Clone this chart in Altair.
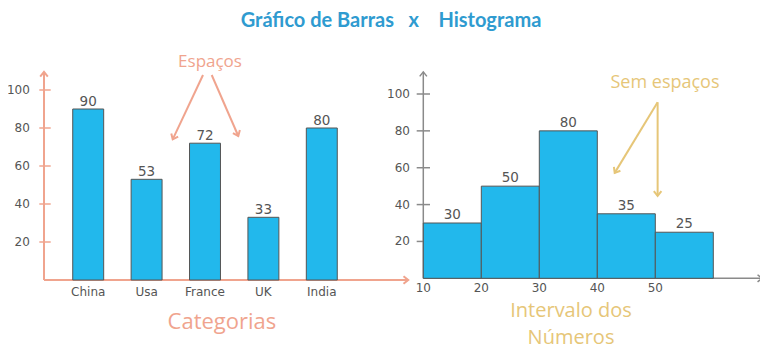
import altair as alt
import pandas as pd

# ---------------- data ----------------
categories = ["China", "Usa", "France", "UK", "India"]
cat_values = [90, 53, 72, 33, 80]

bin_starts = [10, 20, 30, 40, 50]
bin_ends = [20, 30, 40, 50, 60]
bin_counts = [30, 50, 80, 35, 25]

y_ticks = [20, 40, 60, 80, 100]
hist_tick_labels = [10, 20, 30, 40, 50]

title_text = "Gráfico de Barras\u00a0\u00a0\u00a0x\u00a0\u00a0\u00a0\u00a0Histograma"
left_note = "Espaços"
left_axis_title = "Categorias"
right_note = "Sem espaços"
right_axis_title = ["Intervalo dos", "Números"]

# ---------------- style ----------------
BAR = "#22b8ec"
EDGE = "#555555"
SALMON = "#f0a48e"
GOLD = "#e6c678"
GRAY = "#8a8a8a"
LABEL = "#555555"
TITLE = "#2f9bd0"
FONT = "Open Sans"
TICKFONT = "DejaVu Sans"
CHEVRON = "M-0.8,1L0,0L0.8,1"

# ---------------- scales (view is 752 x 324, origin at page (8,32)) ----------------
def L_band():
    return alt.Scale(domain=categories, range=[51, 343], paddingInner=0.47, paddingOuter=0.235)

def L_x():
    return alt.Scale(domain=[-0.5, 4.5], range=[51, 343], nice=False, zero=False)

def L_y():
    return alt.Scale(domain=[0, 100], range=[248, 58], nice=False, zero=False)

def R_x():
    return alt.Scale(domain=[10, 60], range=[415.3, 705.3], nice=False, zero=False)

def R_y():
    return alt.Scale(domain=[0, 100], range=[246.3, 62], nice=False, zero=False)

N = None

def q(field, scale):
    return alt.X(field, type="quantitative", scale=scale, axis=N)

def qy(field, scale):
    return alt.Y(field, type="quantitative", scale=scale, axis=N)

layers = []

# ======== LEFT PANEL: bar chart ========
df_bar = pd.DataFrame({"cat": categories, "val": cat_values})

# axes lines
df_laxes = pd.DataFrame({"x": [-0.757, -0.757], "x2": [-0.757, 5.48], "y": [0, 0], "y2": [109.5, 0]})
layers.append(alt.Chart(df_laxes).mark_rule(color=SALMON, strokeWidth=2).encode(
    x=q("x", L_x()), x2="x2", y=qy("y", L_y()), y2="y2"))
df_larr = pd.DataFrame({"x": [-0.757, 5.48], "y": [109.5, 0], "a": [0, 90]})
layers.append(alt.Chart(df_larr).mark_point(shape=CHEVRON, size=90, filled=False, color=SALMON,
                                            strokeWidth=2, opacity=1).encode(
    x=q("x", L_x()), y=qy("y", L_y()), angle=alt.Angle("a:Q", scale=None)))

# y ticks + labels
df_lt = pd.DataFrame({"v": y_ticks})
layers.append(alt.Chart(df_lt).mark_rule(color=SALMON, strokeWidth=1.5).encode(
    x=alt.datum(-0.837, type="quantitative", scale=L_x(), axis=N),
    x2=alt.datum(-0.642), y=qy("v", L_y())))
layers.append(alt.Chart(df_lt).mark_text(align="right", baseline="middle", font=TICKFONT, fontSize=12,
                                         color=LABEL).encode(
    x=alt.datum(-1.0, type="quantitative", scale=L_x(), axis=N), y=qy("v", L_y()), text="v:Q"))

# bars
layers.append(alt.Chart(df_bar).mark_bar(color=BAR, stroke=EDGE, strokeWidth=1).encode(
    x=alt.X("cat:N", scale=L_band(), axis=N, sort=categories),
    y=qy("val", L_y()), y2=alt.datum(0)))
layers.append(alt.Chart(df_bar).mark_text(baseline="alphabetic", dy=-3, font=TICKFONT, fontSize=13.5,
                                          color=LABEL).encode(
    x=alt.X("cat:N", scale=L_band(), axis=N, sort=categories),
    y=qy("val", L_y()), text="val:Q"))
layers.append(alt.Chart(df_bar).mark_text(baseline="middle", dy=12, font=TICKFONT, fontSize=12,
                                          color=LABEL).encode(
    x=alt.X("cat:N", scale=L_band(), axis=N, sort=categories),
    y=alt.datum(0, type="quantitative", scale=L_y(), axis=N), text="cat:N"))

# annotation "Espaços"
df_lnote = pd.DataFrame({"x": [2.086], "y": [114.7], "t": [left_note]})
layers.append(alt.Chart(df_lnote).mark_text(baseline="middle", font=FONT, fontSize=17,
                                            color=SALMON).encode(
    x=q("x", L_x()), y=qy("y", L_y()), text="t:N"))
df_lar = pd.DataFrame({"x": [1.966, 2.115], "y": [107.9, 107.9], "x2": [1.447, 2.57], "y2": [74.05, 75.8],
                       "a": [205.2, 156.4]})
layers.append(alt.Chart(df_lar).mark_rule(color=SALMON, strokeWidth=2).encode(
    x=q("x", L_x()), x2="x2", y=qy("y", L_y()), y2="y2"))
layers.append(alt.Chart(df_lar).mark_point(shape=CHEVRON, size=90, filled=False, color=SALMON,
                                           strokeWidth=2, opacity=1).encode(
    x=q("x2", L_x()), y=qy("y2", L_y()), angle=alt.Angle("a:Q", scale=None)))
df_ltitle = pd.DataFrame({"x": [2.29], "y": [-22.1], "t": [left_axis_title]})
layers.append(alt.Chart(df_ltitle).mark_text(baseline="middle", font=FONT, fontSize=22,
                                             color=SALMON).encode(
    x=q("x", L_x()), y=qy("y", L_y()), text="t:N"))

# ======== RIGHT PANEL: histogram ========
df_hist = pd.DataFrame({"s": bin_starts, "e": bin_ends, "c": bin_counts})
df_hist["m"] = (df_hist["s"] + df_hist["e"]) / 2

df_raxes = pd.DataFrame({"x": [10, 10], "x2": [10, 68.4], "y": [0, 0], "y2": [112, 0]})
layers.append(alt.Chart(df_raxes).mark_rule(color=GRAY, strokeWidth=1.5).encode(
    x=q("x", R_x()), x2="x2", y=qy("y", R_y()), y2="y2"))
df_rarr = pd.DataFrame({"x": [10, 68.4], "y": [112, 0], "a": [0, 90]})
layers.append(alt.Chart(df_rarr).mark_point(shape=CHEVRON, size=80, filled=False, color=GRAY,
                                            strokeWidth=1.5, opacity=1).encode(
    x=q("x", R_x()), y=qy("y", R_y()), angle=alt.Angle("a:Q", scale=None)))

df_rt = pd.DataFrame({"v": y_ticks})
layers.append(alt.Chart(df_rt).mark_rule(color=GRAY, strokeWidth=1.5).encode(
    x=alt.datum(8.86, type="quantitative", scale=R_x(), axis=N),
    x2=alt.datum(11.16), y=qy("v", R_y())))
layers.append(alt.Chart(df_rt).mark_text(align="right", baseline="middle", font=TICKFONT, fontSize=12,
                                         color=LABEL).encode(
    x=alt.datum(7.7, type="quantitative", scale=R_x(), axis=N), y=qy("v", R_y()), text="v:Q"))

layers.append(alt.Chart(df_hist).mark_rect(color=BAR, stroke=EDGE, strokeWidth=1).encode(
    x=q("s", R_x()), x2="e", y=qy("c", R_y()), y2=alt.datum(0)))
layers.append(alt.Chart(df_hist).mark_text(baseline="alphabetic", dy=-4, font=TICKFONT, fontSize=13.5,
                                           color=LABEL).encode(
    x=q("m", R_x()), y=qy("c", R_y()), text="c:Q"))
df_hl = pd.DataFrame({"v": hist_tick_labels})
layers.append(alt.Chart(df_hl).mark_text(baseline="middle", dy=10, font=TICKFONT, fontSize=12,
                                         color=LABEL).encode(
    x=q("v", R_x()), y=alt.datum(0, type="quantitative", scale=R_y(), axis=N), text="v:Q"))

df_rnote = pd.DataFrame({"x": [51.67], "y": [106.0], "t": [right_note]})
layers.append(alt.Chart(df_rnote).mark_text(baseline="middle", font=FONT, fontSize=18,
                                            color=GOLD).encode(
    x=q("x", R_x()), y=qy("y", R_y()), text="t:N"))
df_rar = pd.DataFrame({"x": [50.4, 50.4], "y": [95.5, 95.5], "x2": [43.0, 50.4], "y2": [57.2, 44.7],
                       "a": [211.2, 180]})
layers.append(alt.Chart(df_rar).mark_rule(color=GOLD, strokeWidth=2).encode(
    x=q("x", R_x()), x2="x2", y=qy("y", R_y()), y2="y2"))
layers.append(alt.Chart(df_rar).mark_point(shape=CHEVRON, size=90, filled=False, color=GOLD,
                                           strokeWidth=2, opacity=1).encode(
    x=q("x2", R_x()), y=qy("y2", R_y()), angle=alt.Angle("a:Q", scale=None)))
df_rtitle = pd.DataFrame({"x": [35.47, 35.47], "y": [-17.9, -32.6], "t": right_axis_title})
layers.append(alt.Chart(df_rtitle).mark_text(baseline="middle", font=FONT, fontSize=20,
                                             color=GOLD).encode(
    x=q("x", R_x()), y=qy("y", R_y()), text="t:N"))

chart = alt.layer(*layers).resolve_scale(
    x="independent", y="independent", angle="independent"
).properties(
    width=752, height=324,
    autosize=alt.AutoSizeParams(type="none"),
    padding={"left": 0, "right": 0, "top": 24, "bottom": 0},
    title=alt.TitleParams(title_text, anchor="middle", fontSize=20, fontWeight="bold", font="Lato",
                          color=TITLE, dx=7, offset=1),
).configure_view(stroke=None)

chart.save("out.html", embed_options={"renderer": "svg", "actions": False})
